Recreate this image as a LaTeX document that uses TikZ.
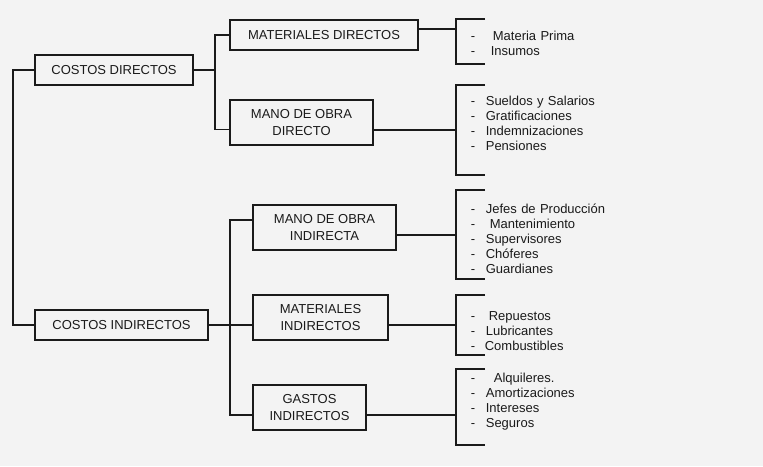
\documentclass[tikz,border=0pt]{standalone}
\usepackage{fontspec}
\setmainfont{Liberation Sans}
\usepackage{tikz}
\definecolor{fondo}{HTML}{F3F3F3}
\definecolor{trazo}{HTML}{1A1A1A}
\newcommand{\guion}{\makebox[15pt][l]{-}}

\begin{document}
\begin{tikzpicture}[x=1pt, y=-1pt, line width=1.7pt, color=trazo,
  caja/.style={draw, anchor=north west, inner sep=0pt, outer sep=0pt, align=center, font=\fontsize{13}{17}\selectfont},
  corch/.style={anchor=north west, inner sep=0pt, outer sep=0pt, minimum width=29pt},
  lista/.style={anchor=base west, inner sep=0pt, text width=170pt, align=left, font=\fontsize{13}{15.2}\selectfont}]
  \fill[fondo] (0,0) rectangle (763,466);
  \useasboundingbox (0,0) rectangle (763,466);
  % cajas
  \node[caja, minimum width=158pt, minimum height=30pt] (cd) at (35,55) {COSTOS DIRECTOS};
  \node[caja, minimum width=173pt, minimum height=30pt] (ci) at (35,310) {COSTOS INDIRECTOS};
  \node[caja, minimum width=188pt, minimum height=30pt] (md) at (230,20) {MATERIALES DIRECTOS};
  \node[caja, minimum width=143pt, minimum height=45pt] (mod) at (230,100) {MANO DE OBRA\\DIRECTO};
  \node[caja, minimum width=143pt, minimum height=45pt] (moi) at (253,205) {MANO DE OBRA\\INDIRECTA};
  \node[caja, minimum width=135pt, minimum height=45pt] (mi) at (253,295) {MATERIALES\\INDIRECTOS};
  \node[caja, minimum width=113pt, minimum height=45pt] (gi) at (253,385) {GASTOS\\INDIRECTOS};
  % corchetes
  \node[corch, minimum height=45pt] (b1) at (456,19) {};
  \node[corch, minimum height=90pt] (b2) at (456,85) {};
  \node[corch, minimum height=89pt] (b3) at (456,190) {};
  \node[corch, minimum height=60pt] (b4) at (456,295) {};
  \node[corch, minimum height=76pt] (b5) at (456,369) {};
  \foreach \b in {b1,b2,b3,b4,b5}
    \draw (\b.north east) -- (\b.north west) -- (\b.south west) -- (\b.south east);
  % listas
  \node[lista] (l1) at (470,40.5) {\guion\hspace{7pt}Materia Prima\\\guion\hspace{5pt}Insumos};
  \node[lista] (l2) at (470,105) {\guion Sueldos y Salarios\\\guion Gratificaciones\\\guion Indemnizaciones\\\guion Pensiones};
  \node[lista] (l3) at (470,213) {\guion Jefes de Producción\\\guion\hspace{4pt}Mantenimiento\\\guion Supervisores\\\guion Chóferes\\\guion Guardianes};
  \node[lista] (l4) at (470,320.5) {\guion\hspace{3pt}Repuestos\\\guion Lubricantes\\\guion\hspace{-1pt}Combustibles};
  \node[lista] (l5) at (470,382) {\guion\hspace{8pt}Alquileres.\\\guion Amortizaciones\\\guion Intereses\\\guion Seguros};
  % conexiones
  \draw (cd.west) -- ++(-22,0) |- (ci.west);
  \draw (cd.east) -- ++(22,0) coordinate (r1);
  \draw (md.west) -| (r1) |- ([yshift=-7pt]mod.west);
  \draw (ci.east) -- ++(22,0) coordinate (r2);
  \draw ([yshift=7.5pt]moi.west) -| (r2) |- ([yshift=-7.5pt]gi.west);
  \draw ([yshift=-7.5pt]mi.west) -| (r2);
  \draw ([yshift=6pt]md.east) -| (b1.west);
  \draw ([yshift=-7.5pt]mod.east) -| (b2.west);
  \draw ([yshift=-7.5pt]moi.east) -| (b3.west);
  \draw ([yshift=-7.5pt]mi.east) -| (b4.west);
  \draw ([yshift=-7.5pt]gi.east) -| (b5.west);
\end{tikzpicture}
\end{document}
